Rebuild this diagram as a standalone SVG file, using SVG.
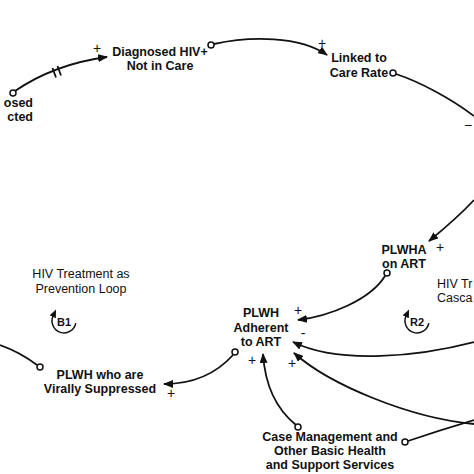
<svg xmlns="http://www.w3.org/2000/svg" width="474" height="474" viewBox="0 0 474 474">
<defs>
<style>
.n{font-family:"Liberation Sans",Arial,sans-serif;font-size:12.5px;font-weight:bold;fill:#111;text-anchor:middle}
.l{font-family:"Liberation Sans",Arial,sans-serif;font-size:12.5px;fill:#111;text-anchor:middle}
.s{font-family:"Liberation Sans",Arial,sans-serif;font-size:14px;fill:#111;text-anchor:middle}
.c{fill:none;stroke:#111;stroke-width:1.8}
.o{fill:#fff;stroke:#111;stroke-width:1.5}
.lp{fill:none;stroke:#111;stroke-width:1.5}
.lt{font-family:"Liberation Sans",Arial,sans-serif;font-size:11px;font-weight:bold;fill:#111;text-anchor:middle}
</style>
<marker id="ah" viewBox="0 0 10 8" refX="9" refY="4" markerWidth="10" markerHeight="8" markerUnits="userSpaceOnUse" orient="auto"><path d="M0,0 L10,4 L0,8 z" fill="#111"/></marker>
<marker id="ahs" viewBox="0 0 8 7" refX="1" refY="3.5" markerWidth="8" markerHeight="7" markerUnits="userSpaceOnUse" orient="auto"><path d="M0,0 L8,3.5 L0,7 z" fill="#111"/></marker>
</defs>
<rect width="474" height="474" fill="#fff"/>

<g id="connectors">
<path class="c" d="M15,91 C40,74 70,62 107,57" marker-end="url(#ah)"/>
<path class="c" d="M52.5,68 L56,77.5 M57.5,66 L61,75.5"/>
<path class="c" d="M214,44 C250,36 300,36 327,55" marker-end="url(#ah)"/>
<path class="c" d="M396,74 C420,82 450,98 474,116"/>
<path class="c" d="M474,200 C460,215 445,228 429,241" marker-end="url(#ah)"/>
<path class="c" d="M385,276 C370,300 330,316 298,320" marker-end="url(#ah)"/>
<path class="c" d="M474,342 C420,356 340,365 293,342" marker-end="url(#ah)"/>
<path class="c" d="M474,424 C410,418 330,385 294,353" marker-end="url(#ah)"/>
<path class="c" d="M296,425 C275,408 265,385 263,354" marker-end="url(#ah)"/>
<path class="c" d="M233,355 C215,375 190,384 164,384" marker-end="url(#ah)"/>
<path class="c" d="M0,345 Q20,352 37,365"/>
<path class="c" d="M408,441 Q440,430 474,420"/>
<circle class="o" cx="13" cy="93" r="3"/>
<circle class="o" cx="211" cy="45" r="3"/>
<circle class="o" cx="393" cy="73" r="3"/>
<circle class="o" cx="387" cy="273" r="3"/>
<circle class="o" cx="235" cy="352" r="3"/>
<circle class="o" cx="40" cy="367" r="3"/>
<circle class="o" cx="298" cy="427" r="3"/>
<circle class="o" cx="405" cy="442" r="3"/>
<text class="s" x="97" y="53">+</text>
<text class="s" x="322" y="48">+</text>
<text class="s" x="468" y="130">−</text>
<text class="s" x="440" y="252">+</text>
<text class="s" x="298" y="315">+</text>
<text class="s" x="303" y="338">-</text>
<text class="s" x="292" y="368">+</text>
<text class="s" x="252" y="365">+</text>
<text class="s" x="171" y="398">+</text>
</g>

<g id="node_undiagnosed">
<text class="n" x="33" y="107" style="text-anchor:end">osed</text>
<text class="n" x="33" y="121" style="text-anchor:end">cted</text>
</g>
<g id="node_diagnosed">
<text class="n" x="160" y="56">Diagnosed HIV+</text>
<text class="n" x="160" y="70">Not in Care</text>
</g>
<g id="node_linked">
<text class="n" x="359" y="62">Linked to</text>
<text class="n" x="359" y="77">Care Rate</text>
</g>
<g id="node_plwha">
<text class="n" x="404" y="254">PLWHA</text>
<text class="n" x="404" y="268">on ART</text>
</g>
<g id="node_adherent">
<text class="n" x="261" y="317">PLWH</text>
<text class="n" x="261" y="332">Adherent</text>
<text class="n" x="261" y="346">to ART</text>
</g>
<g id="node_suppressed">
<text class="n" x="100" y="379">PLWH who are</text>
<text class="n" x="100" y="393">Virally Suppressed</text>
</g>
<g id="node_case">
<text class="n" x="330" y="441">Case Management and</text>
<text class="n" x="330" y="455">Other Basic Health</text>
<text class="n" x="330" y="469">and Support Services</text>
</g>

<g id="loop_b1">
<text class="l" x="81" y="278">HIV Treatment as</text>
<text class="l" x="81" y="293">Prevention Loop</text>
<path class="lp" d="M75.8,323.1 A12,12 0 1 1 53.1,315.9" marker-end="url(#ahs)"/>
<text class="lt" x="64" y="326">B1</text>
</g>
<g id="loop_r2">
<text class="l" x="437" y="288" style="text-anchor:start">HIV Tr</text>
<text class="l" x="437" y="302" style="text-anchor:start">Casca</text>
<path class="lp" d="M428.8,323.1 A12,12 0 1 1 406.1,315.9" marker-end="url(#ahs)"/>
<text class="lt" x="417" y="326">R2</text>
</g>
</svg>
